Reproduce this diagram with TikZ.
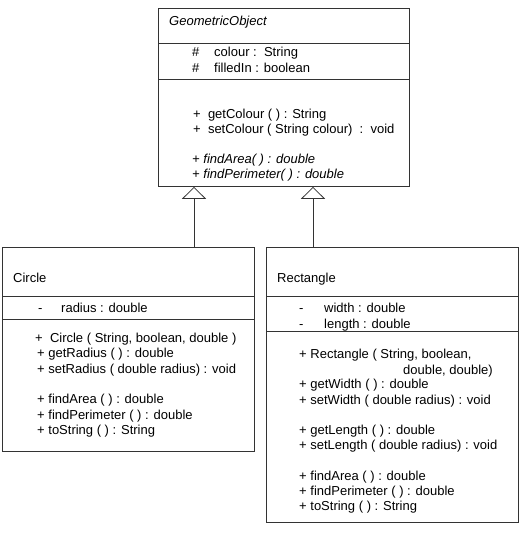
\documentclass[tikz,border=0pt]{standalone}
\usepackage{fontspec}
\setmainfont{Liberation Sans}
\usetikzlibrary{arrows.meta}
\begin{document}
\begin{tikzpicture}[x=1pt,y=-1pt,
  box/.style={draw=black!80,line width=0.8pt,rectangle,anchor=north west,inner sep=0pt},
  sep/.style={draw=black!80,line width=0.8pt},
  txt/.style={anchor=base west,inner sep=0pt,font=\fontsize{13}{15}\selectfont},
  itx/.style={txt,font=\fontsize{13}{15}\selectfont\itshape},
  inherit/.style={draw=black!80,line width=0.8pt,-{Triangle[open,width=24pt,length=12pt]}}]
\useasboundingbox (0,0) rectangle (529,533);
% boxes
\node[box,minimum width=251pt,minimum height=178pt] (geo) at (158,8) {};
\node[box,minimum width=252pt,minimum height=204pt] (circ) at (2,247) {};
\node[box,minimum width=252pt,minimum height=275pt] (rect) at (266,247) {};
% dividers
\draw[sep] (geo.west |- 0,43) -- (geo.east |- 0,43);
\draw[sep] (geo.west |- 0,79) -- (geo.east |- 0,79);
\draw[sep] (circ.west |- 0,296) -- (circ.east |- 0,296);
\draw[sep] (circ.west |- 0,319) -- (circ.east |- 0,319);
\draw[sep] (rect.west |- 0,296) -- (rect.east |- 0,296);
\draw[sep] (rect.west |- 0,331) -- (rect.east |- 0,331);
% GeometricObject text
\node[itx] (g0) at (169,25) {GeometricObject};
\node[txt] (g1a) at (192,56) {\#};
\node[txt] (g1b) at (214,56) {colour :\ \ String};
\node[txt] (g2a) at (192,72) {\#};
\node[txt] (g2b) at (214,72) {filledIn : boolean};
\node[txt] (g3) at (193,118) {+\ \ getColour ( ) : String};
\node[txt] (g4) at (193,133) {+\ \ setColour ( String colour)\ \ :\ \ void};
\node[itx] (g5) at (192,163) {+ findArea( ) : double};
\node[itx] (g6) at (192,178) {+ findPerimeter( ) : double};
% Circle text
\node[txt] (c0) at (13,282) {Circle};
\node[txt] (c1a) at (38,312) {-};
\node[txt] (c1b) at (61,312) {radius : double};
\node[txt] (c2) at (35,342) {+\ \ Circle ( String, boolean, double )};
\node[txt] (c3) at (37,357) {+ getRadius ( ) : double};
\node[txt] (c4) at (37,373) {+ setRadius ( double radius) : void};
\node[txt] (c5) at (37,403) {+ findArea ( ) : double};
\node[txt] (c6) at (37,419) {+ findPerimeter ( ) : double};
\node[txt] (c7) at (37,434) {+ toString ( ) : String};
% Rectangle text
\node[txt] (r0) at (277,282) {Rectangle};
\node[txt] (r1a) at (299,312) {-};
\node[txt] (r1b) at (324,312) {width : double};
\node[txt] (r2a) at (299,328) {-};
\node[txt] (r2b) at (324,328) {length : double};
\node[txt] (r3) at (299,358) {+ Rectangle ( String, boolean,};
\node[txt] (r3b) at (403,374) {double, double)};
\node[txt] (r4) at (299,388) {+ getWidth ( ) : double};
\node[txt] (r5) at (299,404) {+ setWidth ( double radius) : void};
\node[txt] (r6) at (299,434) {+ getLength ( ) : double};
\node[txt] (r7) at (299,449) {+ setLength ( double radius) : void};
\node[txt] (r8) at (299,480) {+ findArea ( ) : double};
\node[txt] (r9) at (299,495) {+ findPerimeter ( ) : double};
\node[txt] (r10) at (299,510) {+ toString ( ) : String};
% inheritance
\coordinate (cin) at (194,247);
\coordinate (rin) at (313,247);
\draw[inherit] (cin) -- (cin |- geo.south);
\draw[inherit] (rin) -- (rin |- geo.south);
\end{tikzpicture}
\end{document}
